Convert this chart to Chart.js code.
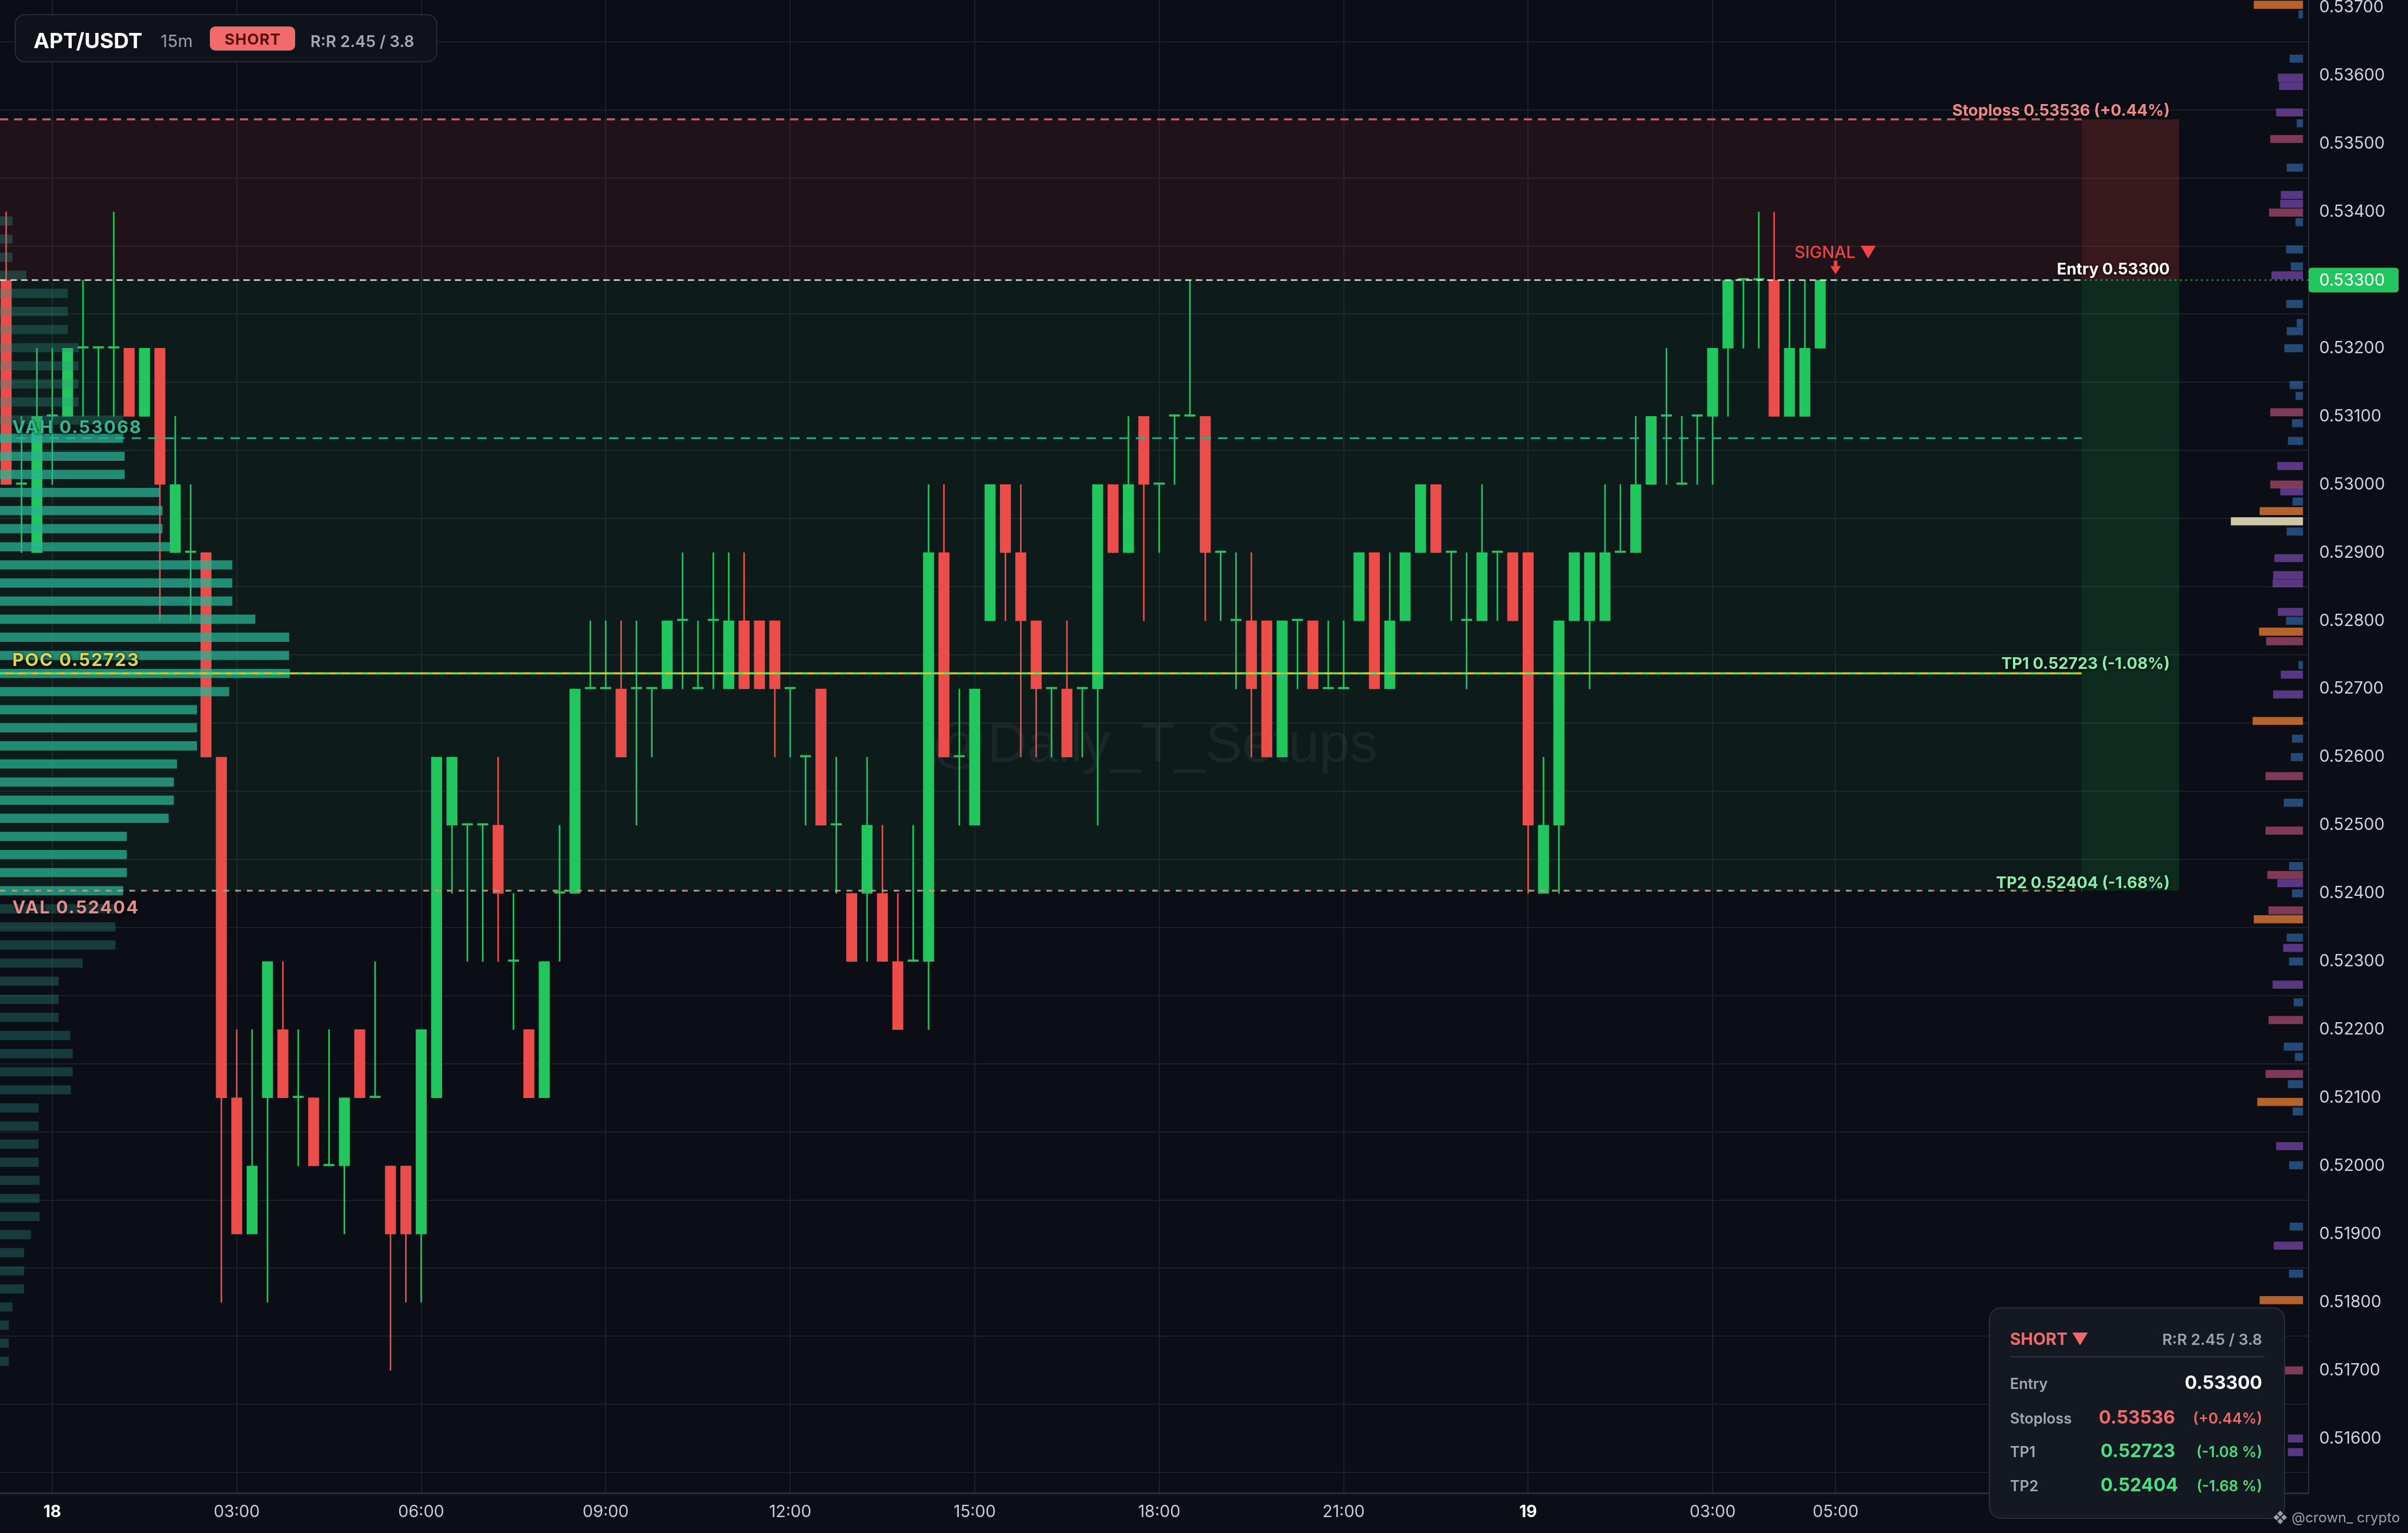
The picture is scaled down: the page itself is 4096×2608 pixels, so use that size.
<!DOCTYPE html>
<html>
<head>
<meta charset="utf-8">
<title>APT/USDT 15m</title>
<script src="https://cdn.jsdelivr.net/npm/chart.js@4.4.1/dist/chart.umd.min.js"></script>
<style>
  html, body { margin: 0; padding: 0; background: #0b0e15; overflow: hidden; }
  canvas { display: block; }
</style>
</head>
<body>
<canvas id="chart" width="4096" height="2608" style="width:4096px;height:2608px"></canvas>
<script>
// 15m candles, oldest first (index 3 = 18th 00:00)
const opens = [
  0.533, 0.530, 0.529, 0.531, 0.531, 0.532, 0.532, 0.532, 0.532, 0.531,
  0.532, 0.529, 0.529, 0.529, 0.526, 0.521, 0.519, 0.521, 0.522, 0.521,
  0.521, 0.520, 0.520, 0.522, 0.521, 0.520, 0.520, 0.519, 0.521, 0.525,
  0.525, 0.525, 0.525, 0.523, 0.522, 0.521, 0.524, 0.524, 0.527, 0.527,
  0.527, 0.527, 0.527, 0.527, 0.528, 0.527, 0.528, 0.527, 0.528, 0.528,
  0.528, 0.527, 0.526, 0.527, 0.525, 0.524, 0.524, 0.524, 0.523, 0.523,
  0.523, 0.529, 0.526, 0.525, 0.528, 0.530, 0.529, 0.528, 0.527, 0.527,
  0.527, 0.527, 0.530, 0.529, 0.531, 0.530, 0.531, 0.531, 0.531, 0.529,
  0.528, 0.528, 0.528, 0.526, 0.528, 0.528, 0.527, 0.527, 0.528, 0.529,
  0.527, 0.528, 0.529, 0.530, 0.529, 0.528, 0.528, 0.529, 0.529, 0.529,
  0.524, 0.525, 0.528, 0.528, 0.528, 0.529, 0.529, 0.530, 0.531, 0.530,
  0.531, 0.531, 0.532, 0.533, 0.533, 0.533, 0.531, 0.531, 0.532
];
const highs = [
  0.534, 0.531, 0.532, 0.532, 0.532, 0.533, 0.532, 0.534, 0.532, 0.532,
  0.532, 0.531, 0.530, 0.529, 0.526, 0.522, 0.522, 0.523, 0.523, 0.522,
  0.521, 0.522, 0.521, 0.522, 0.523, 0.520, 0.520, 0.522, 0.526, 0.526,
  0.525, 0.525, 0.526, 0.524, 0.522, 0.523, 0.525, 0.527, 0.528, 0.528,
  0.528, 0.528, 0.527, 0.528, 0.529, 0.528, 0.529, 0.529, 0.529, 0.528,
  0.528, 0.527, 0.526, 0.527, 0.526, 0.524, 0.526, 0.525, 0.524, 0.525,
  0.530, 0.530, 0.527, 0.527, 0.530, 0.530, 0.530, 0.528, 0.527, 0.528,
  0.527, 0.530, 0.530, 0.531, 0.531, 0.530, 0.531, 0.533, 0.531, 0.529,
  0.529, 0.529, 0.528, 0.528, 0.528, 0.528, 0.528, 0.528, 0.529, 0.529,
  0.529, 0.529, 0.530, 0.530, 0.529, 0.529, 0.530, 0.529, 0.529, 0.529,
  0.526, 0.528, 0.529, 0.529, 0.530, 0.530, 0.531, 0.531, 0.532, 0.531,
  0.531, 0.532, 0.533, 0.533, 0.534, 0.534, 0.533, 0.533, 0.533
];
const lows = [
  0.530, 0.529, 0.529, 0.530, 0.531, 0.531, 0.531, 0.531, 0.531, 0.531,
  0.528, 0.529, 0.528, 0.526, 0.518, 0.519, 0.519, 0.518, 0.521, 0.520,
  0.520, 0.520, 0.519, 0.521, 0.521, 0.517, 0.518, 0.518, 0.521, 0.524,
  0.523, 0.523, 0.523, 0.522, 0.521, 0.521, 0.523, 0.524, 0.527, 0.527,
  0.526, 0.525, 0.526, 0.527, 0.527, 0.527, 0.527, 0.527, 0.527, 0.527,
  0.526, 0.526, 0.525, 0.525, 0.524, 0.523, 0.523, 0.523, 0.522, 0.523,
  0.522, 0.526, 0.525, 0.525, 0.528, 0.528, 0.526, 0.526, 0.526, 0.526,
  0.526, 0.525, 0.529, 0.529, 0.528, 0.529, 0.530, 0.531, 0.528, 0.528,
  0.527, 0.526, 0.526, 0.526, 0.527, 0.527, 0.527, 0.527, 0.528, 0.527,
  0.527, 0.528, 0.529, 0.529, 0.528, 0.527, 0.528, 0.528, 0.528, 0.524,
  0.524, 0.524, 0.528, 0.527, 0.528, 0.529, 0.529, 0.530, 0.530, 0.530,
  0.530, 0.530, 0.531, 0.532, 0.532, 0.531, 0.531, 0.531, 0.532
];
const closes = [
  0.530, 0.530, 0.531, 0.531, 0.532, 0.532, 0.532, 0.532, 0.531, 0.532,
  0.530, 0.530, 0.529, 0.526, 0.521, 0.519, 0.520, 0.523, 0.521, 0.521,
  0.520, 0.520, 0.521, 0.521, 0.521, 0.519, 0.519, 0.522, 0.526, 0.526,
  0.525, 0.525, 0.524, 0.523, 0.521, 0.523, 0.524, 0.527, 0.527, 0.527,
  0.526, 0.527, 0.527, 0.528, 0.528, 0.527, 0.528, 0.528, 0.527, 0.527,
  0.527, 0.527, 0.526, 0.525, 0.525, 0.523, 0.525, 0.523, 0.522, 0.523,
  0.529, 0.526, 0.526, 0.527, 0.530, 0.529, 0.528, 0.527, 0.527, 0.526,
  0.527, 0.530, 0.529, 0.530, 0.530, 0.530, 0.531, 0.531, 0.529, 0.529,
  0.528, 0.527, 0.526, 0.528, 0.528, 0.527, 0.527, 0.527, 0.529, 0.527,
  0.528, 0.529, 0.530, 0.529, 0.529, 0.528, 0.529, 0.529, 0.528, 0.525,
  0.525, 0.528, 0.529, 0.529, 0.529, 0.529, 0.530, 0.531, 0.531, 0.530,
  0.531, 0.532, 0.533, 0.533, 0.533, 0.531, 0.532, 0.532, 0.533
];

// time axis
const tickIndex = [3, 15, 27, 39, 51, 63, 75, 87, 99, 111, 119];
const tickLabels = ['18', '03:00', '06:00', '09:00', '12:00', '15:00', '18:00', '21:00', '19', '03:00', '05:00'];
const dayTicks = ['18', '19'];

// price axis
const yTickValues = [
  0.516, 0.517, 0.518, 0.519, 0.520, 0.521, 0.522, 0.523, 0.524, 0.525, 0.526,
  0.527, 0.528, 0.529, 0.530, 0.531, 0.532, 0.533, 0.534, 0.535, 0.536, 0.537
];

// trade setup
const entry = 0.53300;
const stoploss = 0.53536;
const tp1 = 0.52723;
const tp2 = 0.52404;
const vah = 0.53068;
const poc = 0.52723;
const val = 0.52404;
const signalIndex = 119;
const levelEnd = 135;      // candle slot where the level lines stop
const boxEnd = 141.35;     // right edge of the projection box

// volume profile, top bin first
const profileHigh = 0.534;
const profileLow = 0.517;
const profileVolume = [
  4, 4, 4, 8.5, 22, 22, 22, 25.5, 25.5, 25.5,
  25.5, 40, 40, 40.5, 40.5, 52, 52.8, 52.8, 55.5, 75.5,
  75.5, 75.5, 83, 94, 94, 94.2, 74.5, 64, 64, 64,
  57.5, 56.5, 56.5, 54.8, 41.2, 41.2, 41.2, 40, 38, 37.5,
  37.5, 26.8, 19, 19, 19, 22.8, 23.6, 23.6, 23, 12.5,
  12.5, 12.5, 12.5, 12.8, 12.8, 12.8, 10, 7.8, 7.8, 7.8,
  4, 2.8, 2.8, 2.8
];

// order-book heatmap on the right edge
const heatPrices = [
  0.53704, 0.53690, 0.53625, 0.53597, 0.53585, 0.53546, 0.53530, 0.53507, 0.53465, 0.53425,
  0.53412, 0.53399, 0.53385, 0.53345, 0.53320, 0.53307, 0.53265, 0.53237, 0.53225, 0.53200,
  0.53146, 0.53130, 0.53106, 0.53090, 0.53064, 0.53027, 0.53000, 0.52990, 0.52975, 0.52961,
  0.52946, 0.52931, 0.52892, 0.52867, 0.52855, 0.52813, 0.52800, 0.52784, 0.52770, 0.52735,
  0.52721, 0.52692, 0.52653, 0.52627, 0.52600, 0.52572, 0.52533, 0.52492, 0.52440, 0.52427,
  0.52415, 0.52400, 0.52375, 0.52362, 0.52335, 0.52320, 0.52300, 0.52266, 0.52240, 0.52214,
  0.52175, 0.52160, 0.52135, 0.52120, 0.52094, 0.52080, 0.52029, 0.52001, 0.51911, 0.51883,
  0.51842, 0.51803, 0.51700, 0.51600, 0.51580
];
const heatSizes = [
  83, 7, 22, 42, 40, 45, 10, 55, 27, 37,
  38, 57, 12, 28, 20, 53, 28, 10, 27, 31,
  22, 12, 55, 18, 25, 43, 55, 38, 17, 73,
  122, 27, 48, 50, 51, 42, 28, 74, 62, 7,
  37, 50, 85, 18, 20, 63, 32, 63, 23, 60,
  43, 18, 58, 83, 27, 33, 23, 51, 15, 58,
  32, 13, 63, 25, 77, 17, 45, 23, 22, 49,
  23, 73, 30, 25, 25
];
const heatKinds = [
  'o', 'b', 'b', 'p', 'p', 'p', 'b', 'k', 'b', 'p',
  'p', 'k', 'b', 'b', 'b', 'p', 'b', 'b', 'b', 'b',
  'b', 'b', 'k', 'b', 'b', 'p', 'k', 'p', 'b', 'o',
  'c', 'b', 'p', 'p', 'p', 'p', 'b', 'o', 'k', 'b',
  'p', 'p', 'o', 'b', 'b', 'k', 'b', 'k', 'b', 'k',
  'p', 'b', 'k', 'o', 'b', 'p', 'b', 'p', 'b', 'k',
  'b', 'b', 'k', 'b', 'o', 'b', 'p', 'b', 'b', 'p',
  'b', 'o', 'k', 'p', 'p'
];

const UP = '#22c55e';
const DOWN = '#ea4d4a';
const FONT = 'Inter, "Noto Sans", sans-serif';

const candleColors = opens.map((o, i) => closes[i] >= o ? UP : DOWN);
const bodies = opens.map((o, i) => ({ x: i, y: [o, closes[i]] }));
const wicks = opens.map((o, i) => ({ x: i, y: [lows[i], highs[i]] }));

const binSize = (profileHigh - profileLow) / profileVolume.length;
const profileData = profileVolume.map((v, j) => ({ x: v, y: profileHigh - (j + 0.5) * binSize }));
const profileColors = profileData.map(d =>
  (d.y <= vah + 1e-5 && d.y >= val - 1e-5) ? 'rgba(40,178,148,0.74)' : 'rgba(48,150,135,0.33)');

const heatPalette = {
  b: 'rgba(46,98,160,0.72)',
  p: 'rgba(112,66,162,0.78)',
  k: 'rgba(160,70,108,0.78)',
  o: 'rgba(206,110,48,0.88)',
  c: 'rgba(222,214,178,0.92)'
};
const heatData = heatPrices.map((p, i) => ({ x: heatSizes[i], y: p }));
const heatColors = heatKinds.map(k => heatPalette[k]);

function hline(ctx, x0, x1, y, color, width, dash) {
  ctx.save();
  ctx.strokeStyle = color;
  ctx.lineWidth = width;
  ctx.setLineDash(dash || []);
  ctx.beginPath();
  ctx.moveTo(x0, y);
  ctx.lineTo(x1, y);
  ctx.stroke();
  ctx.restore();
}

function text(ctx, str, x, y, color, font, align, spacing, shadow) {
  ctx.save();
  ctx.font = font;
  ctx.fillStyle = color;
  ctx.textAlign = align || 'left';
  ctx.textBaseline = 'alphabetic';
  if (spacing) ctx.letterSpacing = spacing;
  if (shadow) {
    ctx.shadowColor = 'rgba(0,0,0,0.9)';
    ctx.shadowBlur = 5;
    ctx.shadowOffsetX = 1;
    ctx.shadowOffsetY = 1;
  }
  ctx.fillText(str, x, y);
  ctx.restore();
}

const overlay = {
  id: 'overlay',
  beforeDraw(chart) {
    const ctx = chart.ctx;
    ctx.save();
    ctx.fillStyle = '#0b0e15';
    ctx.fillRect(0, 0, chart.width, chart.height);
    ctx.restore();
  },
  beforeDatasetsDraw(chart) {
    const { ctx, chartArea: a, scales: { x, y } } = chart;
    const x0 = a.left, xe = x.getPixelForValue(levelEnd), xb = x.getPixelForValue(boxEnd);
    const ySl = y.getPixelForValue(stoploss), yEn = y.getPixelForValue(entry), yTp2 = y.getPixelForValue(tp2);
    ctx.save();
    ctx.fillStyle = 'rgba(239,68,68,0.09)';
    ctx.fillRect(x0, ySl, xe - x0, yEn - ySl);
    ctx.fillStyle = 'rgba(239,68,68,0.2)';
    ctx.fillRect(xe, ySl, xb - xe, yEn - ySl);
    ctx.fillStyle = 'rgba(34,197,94,0.075)';
    ctx.fillRect(x0, yEn, xe - x0, yTp2 - yEn);
    ctx.fillStyle = 'rgba(34,197,94,0.16)';
    ctx.fillRect(xe, yEn, xb - xe, yTp2 - yEn);
    // faint watermark
    ctx.font = '94px "Liberation Sans", Arial, sans-serif';
    ctx.fillStyle = 'rgba(255,255,255,0.055)';
    ctx.textAlign = 'center';
    ctx.textBaseline = 'middle';
    ctx.fillText('@Daily_T_Setups', (a.left + a.right) / 2, (a.top + a.bottom) / 2);
    ctx.restore();
  },
  afterDatasetsDraw(chart) {
    const { ctx, chartArea: a, scales: { x, y } } = chart;
    const x0 = a.left, xe = x.getPixelForValue(levelEnd), xb = x.getPixelForValue(boxEnd);
    const ySl = y.getPixelForValue(stoploss), yEn = y.getPixelForValue(entry);
    const yTp1 = y.getPixelForValue(tp1), yTp2 = y.getPixelForValue(tp2);
    const yVah = y.getPixelForValue(vah), yPoc = y.getPixelForValue(poc), yVal = y.getPixelForValue(val);

    hline(ctx, x0, xe, yVah, 'rgba(42,175,145,0.9)', 3, [16, 12]);
    hline(ctx, x0, xe, yPoc, '#d6c62a', 3.5);
    hline(ctx, x0, xe, yTp1, 'rgba(74,222,128,0.85)', 3, [10, 12]);
    hline(ctx, x0, xe, yVal, 'rgba(224,120,120,0.9)', 3, [10, 10]);
    hline(ctx, x0, xe, yTp2, 'rgba(74,222,128,0.6)', 3, [6, 14]);
    hline(ctx, x0, xe, ySl, 'rgba(216,104,106,0.9)', 3.5, [14, 10]);
    hline(ctx, x0, a.right, yEn, 'rgba(34,197,94,0.9)', 2, [3, 6]);
    hline(ctx, x0, xe, yEn, 'rgba(235,235,235,0.9)', 2.5, [10, 8]);

    const lf = 'bold 30px ' + FONT;
    text(ctx, 'VAH 0.53068', 21, yVah - 8, '#2fb893', lf, 'left', '2px', true);
    text(ctx, 'POC 0.52723', 21, yPoc - 12, '#e3d34a', lf, 'left', '2px', true);
    text(ctx, 'VAL 0.52404', 21, yVal + 39, '#e58c8c', lf, 'left', '2px', true);

    const rf = 'bold 27px ' + FONT;
    const rx = xb - 16;
    text(ctx, 'Stoploss 0.53536 (+0.44%)', rx, ySl - 6, '#f08a8a', rf, 'right', null, true);
    text(ctx, 'Entry 0.53300', rx, yEn - 9, '#ffffff', rf, 'right', null, true);
    text(ctx, 'TP1 0.52723 (-1.08%)', rx, yTp1 - 7, '#86efac', rf, 'right', null, true);
    text(ctx, 'TP2 0.52404 (-1.68%)', rx, yTp2 - 4, '#86efac', rf, 'right', null, true);

    // signal marker
    const xs = x.getPixelForValue(signalIndex);
    text(ctx, 'SIGNAL ▼', xs, yEn - 37, '#ef4444', '500 28px ' + FONT, 'center');
    ctx.save();
    ctx.fillStyle = '#ef4444';
    ctx.fillRect(xs - 3, yEn - 33, 6, 10);
    ctx.beginPath();
    ctx.moveTo(xs - 9, yEn - 24);
    ctx.lineTo(xs + 9, yEn - 24);
    ctx.lineTo(xs, yEn - 10);
    ctx.closePath();
    ctx.fill();
    ctx.restore();
  },
  afterDraw(chart) {
    const { ctx, chartArea: a, scales: { y } } = chart;
    const yEn = y.getPixelForValue(entry);

    // current price tag
    ctx.save();
    ctx.fillStyle = '#22c55e';
    ctx.beginPath();
    ctx.roundRect(a.right, yEn - 21, 153, 42, 5);
    ctx.fill();
    ctx.font = '28px ' + FONT;
    ctx.fillStyle = '#ffffff';
    ctx.textBaseline = 'middle';
    ctx.fillText(entry.toFixed(5), a.right + 18, yEn + 1);
    ctx.restore();

    // header box
    ctx.save();
    ctx.fillStyle = '#0f121a';
    ctx.strokeStyle = '#272b35';
    ctx.lineWidth = 2;
    ctx.beginPath();
    ctx.roundRect(26, 25, 717, 80, 16);
    ctx.fill();
    ctx.stroke();
    ctx.fillStyle = '#f26b6b';
    ctx.beginPath();
    ctx.roundRect(357, 45, 145, 41, 9);
    ctx.fill();
    ctx.restore();
    text(ctx, 'APT/USDT', 57, 82, '#ffffff', 'bold 36px ' + FONT);
    text(ctx, '15m', 273, 80, '#9aa0ab', '29px ' + FONT);
    text(ctx, 'SHORT', 430, 76, '#5a0d0d', 'bold 26px ' + FONT, 'center', '1px');
    text(ctx, 'R:R 2.45 / 3.8', 528, 80, '#a3a8b3', '600 27px ' + FONT);

    // summary card
    ctx.save();
    ctx.fillStyle = '#141821';
    ctx.strokeStyle = '#2a2f3a';
    ctx.lineWidth = 2;
    ctx.beginPath();
    ctx.roundRect(3384, 2225, 502, 358, 20);
    ctx.fill();
    ctx.stroke();
    ctx.restore();
    text(ctx, 'SHORT ▼', 3419, 2288, '#f06a6a', 'bold 28px ' + FONT);
    text(ctx, 'R:R 2.45 / 3.8', 3848, 2288, '#9ca3af', '600 26px ' + FONT, 'right');
    hline(ctx, 3419, 3850, 2308, '#2f3440', 2);
    const nf = '600 25px ' + FONT, vf = 'bold 31px ' + FONT;
    text(ctx, 'Entry', 3419, 2363, '#a1a6b0', nf);
    text(ctx, '0.53300', 3848, 2363, '#ffffff', vf, 'right');
    text(ctx, 'Stoploss', 3419, 2422, '#a1a6b0', nf);
    text(ctx, '0.53536', 3570, 2422, '#f06a6a', vf);
    text(ctx, '(+0.44%)', 3848, 2422, '#f06a6a', nf, 'right');
    text(ctx, 'TP1', 3419, 2479, '#a1a6b0', nf);
    text(ctx, '0.52723', 3573, 2479, '#4ade80', vf);
    text(ctx, '(-1.08 %)', 3848, 2479, '#4ade80', nf, 'right');
    text(ctx, 'TP2', 3419, 2537, '#a1a6b0', nf);
    text(ctx, '0.52404', 3573, 2537, '#4ade80', vf);
    text(ctx, '(-1.68 %)', 3848, 2537, '#4ade80', nf, 'right');

    text(ctx, '❖ @crown_ crypto', 3866, 2590, '#9aa0a6', '24px ' + FONT);
  }
};

new Chart(document.getElementById('chart'), {
  type: 'bar',
  data: {
    datasets: [
      {
        label: 'profile',
        indexAxis: 'y',
        data: profileData,
        backgroundColor: profileColors,
        borderWidth: 0,
        barThickness: 15,
        grouped: false,
        order: -1,
        xAxisID: 'xv',
        yAxisID: 'y'
      },
      {
        label: 'body',
        data: bodies,
        backgroundColor: candleColors,
        borderWidth: 0,
        barThickness: 18,
        minBarLength: 3,
        grouped: false,
        order: 0,
        xAxisID: 'x',
        yAxisID: 'y'
      },
      {
        label: 'wick',
        data: wicks,
        backgroundColor: candleColors,
        borderWidth: 0,
        barThickness: 2,
        grouped: false,
        order: 1,
        xAxisID: 'x',
        yAxisID: 'y'
      },
      {
        label: 'heatmap',
        indexAxis: 'y',
        data: heatData,
        backgroundColor: heatColors,
        borderWidth: 0,
        barThickness: 13,
        grouped: false,
        order: 2,
        xAxisID: 'xh',
        yAxisID: 'y'
      }
    ]
  },
  options: {
    responsive: false,
    animation: false,
    devicePixelRatio: 1,
    events: [],
    layout: { padding: 0 },
    plugins: {
      legend: { display: false },
      tooltip: { enabled: false }
    },
    scales: {
      x: {
        type: 'linear',
        position: 'bottom',
        min: -0.4,
        max: 149.77,
        offset: false,
        afterBuildTicks: s => { s.ticks = tickIndex.map(v => ({ value: v })); },
        afterFit: s => { s.height = 68; s.paddingLeft = 0; s.paddingRight = 0; },
        ticks: {
          autoSkip: false,
          maxRotation: 0,
          padding: 16,
          callback: v => tickLabels[tickIndex.indexOf(v)],
          color: c => dayTicks.includes(tickLabels[c.index]) ? '#ffffff' : '#c9ccd3',
          font: c => ({ family: FONT, size: 28, weight: dayTicks.includes(tickLabels[c.index]) ? 'bold' : 'normal' })
        },
        grid: { color: '#1c2029', lineWidth: 2, drawTicks: false, offset: false },
        border: { color: '#2a2e39', width: 3 }
      },
      y: {
        type: 'linear',
        position: 'right',
        min: 0.5152,
        max: 0.53711,
        offset: false,
        afterBuildTicks: s => { s.ticks = yTickValues.map(v => ({ value: v })); },
        afterFit: s => { s.width = 169; s.paddingTop = 0; s.paddingBottom = 0; },
        ticks: {
          autoSkip: false,
          padding: 18,
          callback: v => v.toFixed(5),
          color: '#d1d4dc',
          font: { family: FONT, size: 28 }
        },
        grid: { color: '#1c2029', lineWidth: 2, drawTicks: false },
        border: { color: '#2a2e39', width: 2 }
      },
      xv: { type: 'linear', display: false, min: 0, max: 751, offset: false },
      xh: { type: 'linear', display: false, reverse: true, min: -10, max: 3917, offset: false }
    }
  },
  plugins: [overlay]
});
</script>
</body>
</html>
